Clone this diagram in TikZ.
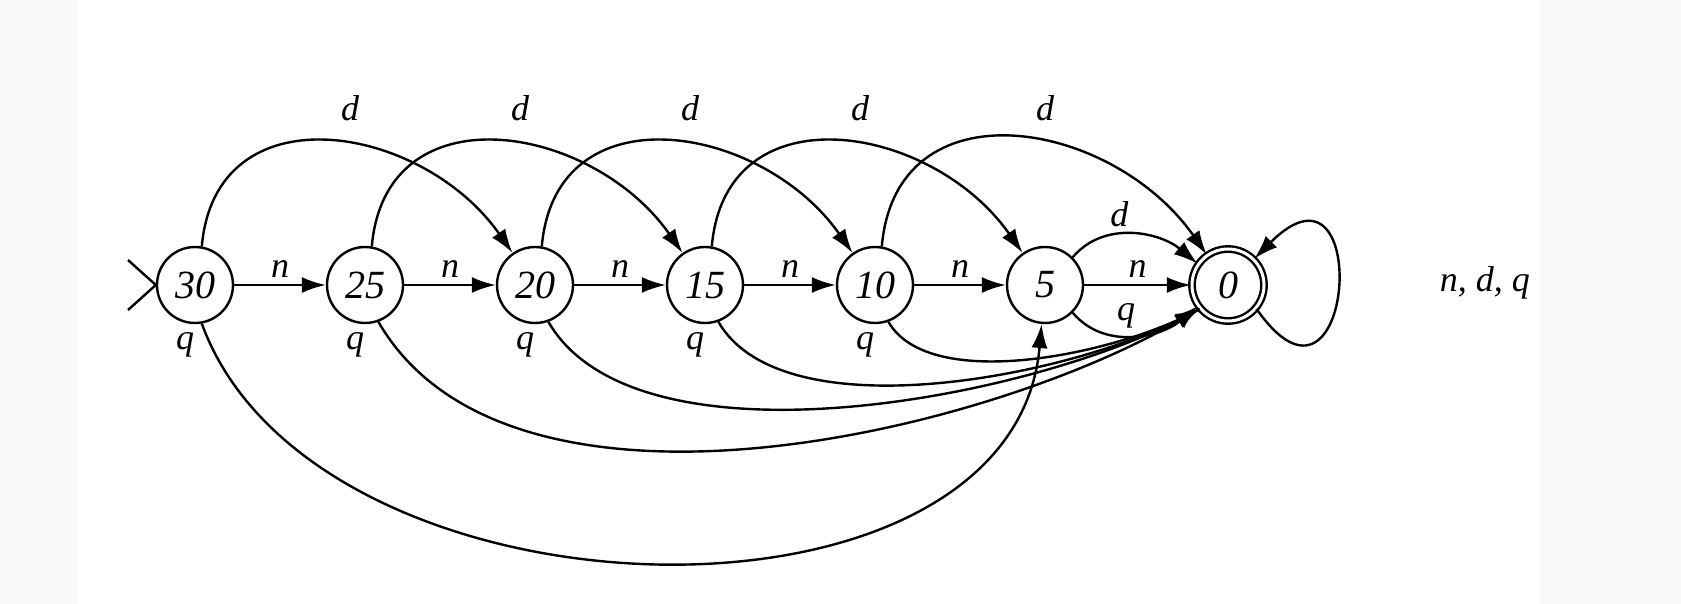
\documentclass[tikz,border=0pt]{standalone}
\usepackage{fontspec}
\setmainfont{Liberation Serif}
\usetikzlibrary{arrows.meta}
\begin{document}
\begin{tikzpicture}[x=0.5pt,y=-0.5pt,line width=1.2pt,
  st/.style={circle,draw,minimum size=38pt,inner sep=0pt,font=\fontsize{20}{22}\selectfont\itshape},
  acc/.style={st,double,double distance=1.5pt,minimum size=36pt},
  lb/.style={font=\fontsize{18}{20}\selectfont\itshape},
  tr/.style={-{Latex[length=12pt,width=8pt]}}]
\useasboundingbox (0,0) rectangle (1681,604);
\fill[gray!5] (0,0) rectangle (78,604);
\fill[gray!5] (1540,0) rectangle (1681,604);
\node[st] (s30) at (195,285) {30};
\node[st] (s25) at (365,285) {25};
\node[st] (s20) at (535,285) {20};
\node[st] (s15) at (705,285) {15};
\node[st] (s10) at (875,285) {10};
\node[st] (s5) at (1045,285) {5};
\node[acc] (s0) at (1228,285) {0};
\coordinate (ia) at (128,260);
\coordinate (ib) at (128,310);
\draw (ia) -- (s30.west) -- (ib);
% n transitions
\foreach \a/\b in {s30/s25,s25/s20,s20/s15,s15/s10,s10/s5,s5/s0}
  \draw[tr] (\a) -- node[lb,above]{n} (\b);
% d transitions
\foreach \a/\b in {s30/s20,s25/s15,s20/s10,s15/s5,s10/s0}
  \draw[tr] (\a.80) to[out=85,in=125,looseness=1.3] (\b.125);
\foreach \x in {350,520,690,860,1045}
  \node[lb] (dl\x) at (\x,108) {d};
\draw[tr] (s5.45) to[out=50,in=140] node[lb,above,pos=0.4]{d} (s0.145);
\draw[tr] (s5.-45) to[out=-50,in=-140] node[lb,above,pos=0.45]{q} (s0.-145);
% q transitions
\draw[tr] (s30.-80) to[out=-70,in=-95,looseness=1.0] (s5.-95);
\draw[tr] (s25.-70) to[out=-60,in=-150,looseness=0.8] (s0.-140);
\draw (s20.-70) to[out=-60,in=-150,looseness=0.7] (s0.-140);
\draw (s15.-70) to[out=-60,in=-150,looseness=0.7] (s0.-140);
\draw (s10.-70) to[out=-60,in=-150,looseness=0.7] (s0.-140);
\foreach \x in {185,355,525,695,865}
  \node[lb] (ql\x) at (\x,345) {q};
% loop
\draw[tr] (s0.-40) .. controls +(-55:85pt) and +(45:85pt) .. (s0.45);
\node[lb,anchor=west] (ll) at (1432,283) {n, d, q};
\end{tikzpicture}
\end{document}
